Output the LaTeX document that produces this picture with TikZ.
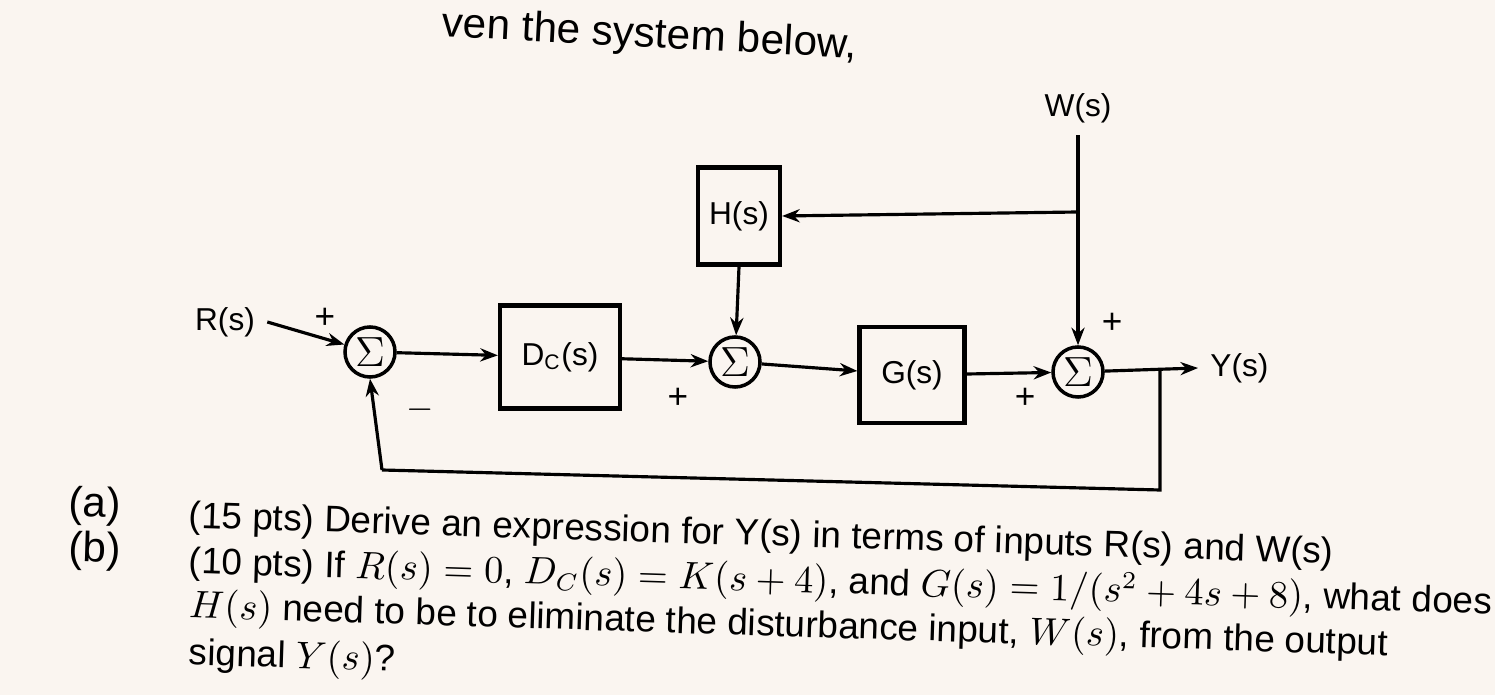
\documentclass[tikz,border=0pt]{standalone}
\usepackage{fontspec}
\setmainfont{Liberation Sans}
\usetikzlibrary{arrows.meta}
\begin{document}
\begin{tikzpicture}[x=0.01cm,y=-0.01cm,
  blk/.style={draw,line width=1.2pt,inner sep=0pt},
  sumc/.style={draw,circle,line width=1pt,minimum size=0.5cm,inner sep=0pt,font=\large},
  lbl/.style={font=\fontsize{9}{10}\selectfont},
  sgn/.style={font=\fontsize{10}{10}\selectfont},
  sig/.style={line width=0.9pt,-{Stealth[length=5pt]}},
  txt/.style={font=\fontsize{10.5}{12}\selectfont,anchor=west,rotate=-1.8,inner sep=1pt}]
\fill[white!92!brown] (0,0) rectangle (1495,695);
\useasboundingbox (0,0) rectangle (1495,695);
\node[font=\fontsize{12}{14}\selectfont,anchor=west,rotate=-3] (title) at (430,25) {ven the system below,};
% blocks
\node[lbl] (R) at (225,322) {R(s)};
\node[sumc] (s1) at (370,352) {$\Sigma$};
\node[blk,minimum width=1.2cm,minimum height=1.03cm,lbl] (D) at (560,357) {D\textsubscript{C}(s)};
\node[sumc] (s2) at (735,362) {$\Sigma$};
\node[blk,minimum width=0.82cm,minimum height=0.97cm,lbl] (H) at (739,216) {H(s)};
\node[blk,minimum width=1.05cm,minimum height=0.96cm,lbl] (G) at (912,375) {G(s)};
\node[sumc] (s3) at (1078,372) {$\Sigma$};
\node[lbl] (W) at (1078,108) {W(s)};
\node[lbl,anchor=west] (Y) at (1198,368) {Y(s)};
\coordinate (wb) at (1078,212);
\coordinate (yb) at (1160,370);
\coordinate (fb1) at (1160,490);
\coordinate (fb2) at (382,470);
% signs
\node[sgn] at (325,318) {+};
\node[sgn] at (420,410) {$-$};
\node[sgn] at (678,398) {+};
\node[sgn] at (1025,398) {+};
\node[sgn] at (1112,323) {+};
% connectors
\draw[sig] (R.east) -- (s1);
\draw[sig] (s1) -- (D);
\draw[sig] (D) -- (s2);
\draw[sig] (H.south) -- (s2);
\draw[sig] (s2) -- (G);
\draw[sig] (G) -- (s3);
\draw[sig] (W.south) -- (s3.north);
\draw[sig] (wb) -- (H.east);
\draw[sig] (s3) -- (Y.west);
\draw[line width=0.9pt] (yb) -- (fb1) -- (fb2);
\draw[sig] (fb2) -- (s1.south);
% question text
\node[txt] (a) at (65,505) {\fontsize{12}{14}\selectfont (a)};
\node[txt] (b) at (65,550) {\fontsize{12}{14}\selectfont (b)};
\node[txt] (qa) at (185,518) {(15 pts) Derive an expression for Y(s) in terms of inputs R(s) and W(s)};
\node[txt] (qb1) at (185,563) {(10 pts) If $R(s)=0$, $D_C(s)=K(s+4)$, and $G(s)=1/(s^2+4s+8)$, what does};
\node[txt] (qb2) at (185,608) {$H(s)$ need to be to eliminate the disturbance input, $W(s)$, from the output};
\node[txt] (qb3) at (185,655) {signal $Y(s)$?};
\end{tikzpicture}
\end{document}
